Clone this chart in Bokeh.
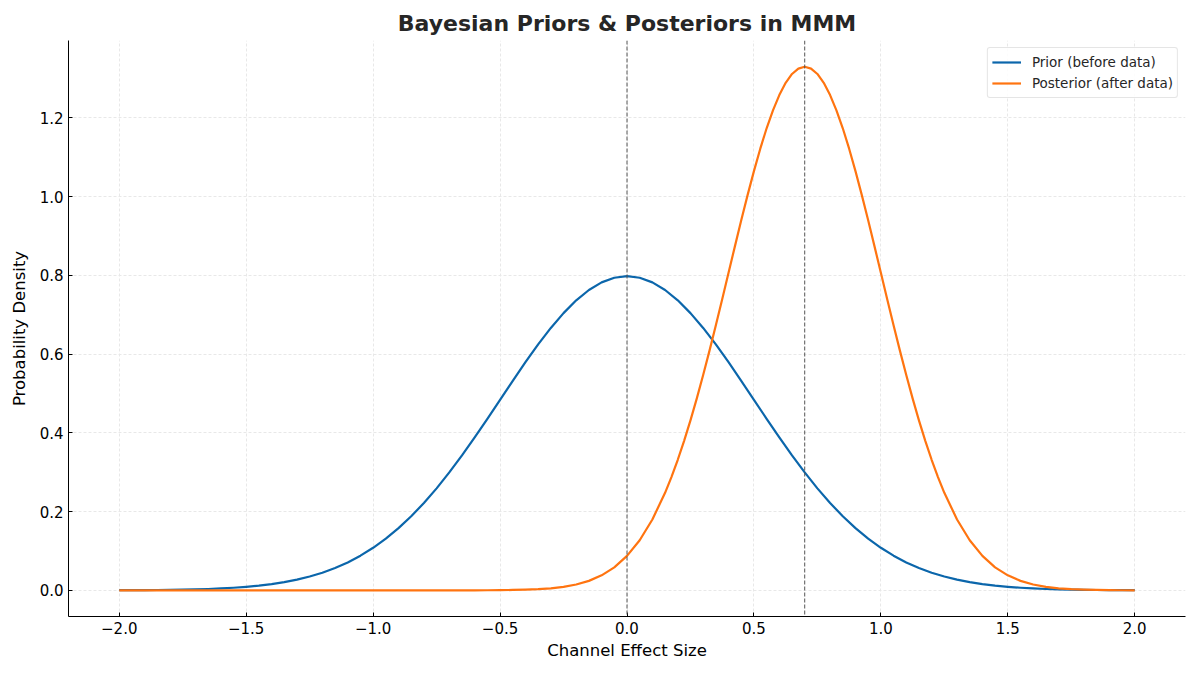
from bokeh.plotting import figure
from bokeh.models import Span, FixedTicker, Range1d
from bokeh.embed import file_html
from bokeh.resources import INLINE

# sample points along the effect-size axis (shared by the prior)
effect_size = [round(-2 + 0.05 * i, 2) for i in range(81)]

# prior density, one per sample point
prior_density = [
    0.0003, 0.0004, 0.0006, 0.0008, 0.0012, 0.0017, 0.0025, 0.0034, 0.0048, 0.0065,
    0.0089, 0.0119, 0.0158, 0.0208, 0.0272, 0.0351, 0.0448, 0.0567, 0.0709, 0.0880,
    0.1080, 0.1312, 0.1579, 0.1881, 0.2218, 0.2590, 0.2995, 0.3427, 0.3884, 0.4357,
    0.4839, 0.5322, 0.5794, 0.6245, 0.6664, 0.7041, 0.7366, 0.7628, 0.7821, 0.7939,
    0.7979,
    0.7939, 0.7821, 0.7628, 0.7366, 0.7041, 0.6664, 0.6245, 0.5794, 0.5322, 0.4839,
    0.4357, 0.3884, 0.3427, 0.2995, 0.2590, 0.2218, 0.1881, 0.1579, 0.1312, 0.1080,
    0.0880, 0.0709, 0.0567, 0.0448, 0.0351, 0.0272, 0.0208, 0.0158, 0.0119, 0.0089,
    0.0065, 0.0048, 0.0034, 0.0025, 0.0017, 0.0012, 0.0008, 0.0006, 0.0004, 0.0003,
]

# posterior: finer sampling around the peak (rows of x and density line up)
posterior_x = [
    -2.0, -1.5, -1.0, -0.65, -0.6, -0.55, -0.5, -0.45, -0.4, -0.35,
    -0.3, -0.25, -0.2, -0.15, -0.1, -0.05, 0.0, 0.05, 0.1, 0.15,
    0.175, 0.2, 0.225, 0.25, 0.275, 0.3, 0.325, 0.35, 0.375, 0.4,
    0.425, 0.45, 0.475, 0.5, 0.525, 0.55, 0.575, 0.6, 0.625, 0.65,
    0.675, 0.7, 0.725, 0.75, 0.775, 0.8, 0.825, 0.85, 0.875, 0.9,
    0.925, 0.95, 0.975, 1.0, 1.025, 1.05, 1.075, 1.1, 1.125, 1.15,
    1.175, 1.2, 1.225, 1.25, 1.3, 1.35, 1.4, 1.45, 1.5, 1.55,
    1.6, 1.65, 1.7, 1.75, 1.8, 1.85, 1.9, 1.95, 2.0,
]
posterior_density = [
    0.0, 0.0, 0.0, 0.0, 0.0001, 0.0002, 0.0004, 0.0009, 0.0016, 0.0029,
    0.0051, 0.0088, 0.0148, 0.0240, 0.0380, 0.0584, 0.0874, 0.1272, 0.1800, 0.2477,
    0.2876, 0.3316, 0.3797, 0.4317, 0.4875, 0.5467, 0.6088, 0.6733, 0.7395, 0.8066,
    0.8736, 0.9397, 1.0038, 1.0648, 1.1217, 1.1735, 1.2192, 1.2579, 1.2889, 1.3115,
    1.3252, 1.3298, 1.3252, 1.3115, 1.2889, 1.2579, 1.2192, 1.1735, 1.1217, 1.0648,
    1.0038, 0.9397, 0.8736, 0.8066, 0.7395, 0.6733, 0.6088, 0.5467, 0.4875, 0.4317,
    0.3797, 0.3316, 0.2876, 0.2477, 0.1800, 0.1272, 0.0874, 0.0584, 0.0380, 0.0240,
    0.0148, 0.0088, 0.0051, 0.0029, 0.0016, 0.0009, 0.0004, 0.0002, 0.0001,
]

# dashed reference lines (prior mean, posterior mean)
mean_lines = [0.0, 0.7]

x_ticks = [-2.0, -1.5, -1.0, -0.5, 0.0, 0.5, 1.0, 1.5, 2.0]
y_ticks = [0.0, 0.2, 0.4, 0.6, 0.8, 1.0, 1.2]

FONT = "DejaVu Sans"

p = figure(
    width=1200, height=675,
    title="Bayesian Priors & Posteriors in MMM",
    x_range=Range1d(-2.2, 2.2), y_range=Range1d(-0.0665, 1.3965),
    output_backend="svg", toolbar_location=None,
    min_border_left=68, min_border_right=15, min_border_top=40, min_border_bottom=59,
)
p.outline_line_color = None
p.background_fill_color = "white"

p.title.text_font = FONT
p.title.text_font_size = "22px"
p.title.text_font_style = "bold"
p.title.text_color = "#262626"
p.title.align = "center"

for g in (p.xgrid[0], p.ygrid[0]):
    g.grid_line_color = "#e8e8e8"
    g.grid_line_dash = "3 2"
    g.grid_line_width = 1

for ax in (p.xaxis[0], p.yaxis[0]):
    ax.axis_line_color = "black"
    ax.axis_line_width = 1
    ax.major_tick_in = 4
    ax.major_tick_out = 0
    ax.minor_tick_line_color = None
    ax.major_tick_line_color = "black"
    ax.major_label_text_font = FONT
    ax.major_label_text_font_size = "15px"
    ax.major_label_text_color = "black"
    ax.axis_label_text_font = FONT
    ax.axis_label_text_font_size = "16.5px"
    ax.axis_label_text_font_style = "normal"
    ax.axis_label_text_color = "black"

p.xaxis.ticker = FixedTicker(ticks=x_ticks)
p.xaxis.major_label_overrides = {t: f"{t:.1f}".replace("-", "\u2212") for t in x_ticks}
p.yaxis.ticker = FixedTicker(ticks=y_ticks)
p.yaxis.major_label_overrides = {t: f"{t:.1f}" for t in y_ticks}
p.xaxis.axis_label = "Channel Effect Size"
p.yaxis.axis_label = "Probability Density"
p.xaxis.axis_label_standoff = 4
p.yaxis.axis_label_standoff = 8

p.line(effect_size, prior_density, line_color="#0b66ab", line_width=2.2,
       line_join="round", legend_label="Prior (before data)")
p.line(posterior_x, posterior_density, line_color="#ff7410", line_width=2.2,
       line_join="round", legend_label="Posterior (after data)")

for m in mean_lines:
    p.add_layout(Span(location=m, dimension="height", line_color="#555555",
                      line_dash="4 2", line_width=1))

p.legend.location = "top_right"
p.legend.label_text_font = FONT
p.legend.label_text_font_size = "13.5px"
p.legend.label_text_color = "#262626"
p.legend.border_line_color = "#cccccc"
p.legend.border_line_width = 1
p.legend.border_radius = 3
p.legend.background_fill_alpha = 0.85
p.legend.glyph_width = 29
p.legend.label_standoff = 11
p.legend.label_height = 20
p.legend.spacing = 1
p.legend.padding = 4
p.legend.margin = 7

open("out.html", "w").write(file_html(p, INLINE))
